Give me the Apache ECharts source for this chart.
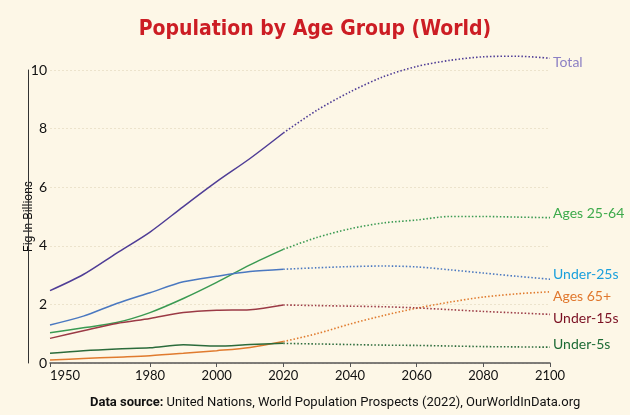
<!DOCTYPE html>
<html>
<head>
<meta charset="utf-8">
<script src="https://cdn.jsdelivr.net/npm/echarts@6/dist/echarts.min.js"></script>
<style>
  html, body { margin: 0; padding: 0; background: #fdf7e7; }
  #main { width: 630px; height: 415px; }
</style>
</head>
<body>
<div id="main"></div>
<script>
// years: estimates up to 2020, projections after
var histYears = [1950, 1960, 1970, 1980, 1990, 2000, 2010, 2020];
var projYears = [2020, 2030, 2040, 2050, 2060, 2070, 2080, 2090, 2100];
var xTicks = [1950, 1980, 2000, 2020, 2040, 2060, 2080, 2100];

// billions
var totalHist = [2.47, 3.02, 3.75, 4.47, 5.34, 6.19, 6.98, 7.85];
var totalProj = [7.85, 8.62, 9.25, 9.77, 10.12, 10.33, 10.45, 10.47, 10.4];
var age2564Hist = [1.03, 1.2, 1.38, 1.72, 2.2, 2.75, 3.35, 3.88];
var age2564Proj = [3.88, 4.28, 4.58, 4.78, 4.88, 5.0, 5.0, 4.98, 4.96];
var under25Hist = [1.3, 1.6, 2.03, 2.4, 2.77, 2.96, 3.12, 3.2];
var under25Proj = [3.2, 3.25, 3.29, 3.31, 3.28, 3.18, 3.07, 2.96, 2.86];
var age65Hist = [0.1, 0.15, 0.2, 0.25, 0.33, 0.42, 0.53, 0.73];
var age65Proj = [0.73, 1.0, 1.33, 1.62, 1.87, 2.08, 2.25, 2.36, 2.43];
var under15Hist = [0.84, 1.1, 1.35, 1.52, 1.72, 1.8, 1.82, 1.98];
var under15Proj = [1.98, 1.96, 1.94, 1.92, 1.88, 1.82, 1.76, 1.71, 1.66];
var under5Hist = [0.33, 0.42, 0.48, 0.52, 0.62, 0.58, 0.63, 0.67];
var under5Proj = [0.67, 0.65, 0.63, 0.61, 0.6, 0.58, 0.56, 0.55, 0.54];

var groups = [
  { name: "Total", hist: totalHist, proj: totalProj, line: "#4f3d96", label: "#8c80c4", dy: 4 },
  { name: "Ages 25-64", hist: age2564Hist, proj: age2564Proj, line: "#3a9a52", label: "#3daa4b", dy: -4 },
  { name: "Under-25s", hist: under25Hist, proj: under25Proj, line: "#4a78c0", label: "#1aa0dc", dy: -5 },
  { name: "Ages 65+", hist: age65Hist, proj: age65Proj, line: "#e07b2e", label: "#e0782e", dy: 5 },
  { name: "Under-15s", hist: under15Hist, proj: under15Proj, line: "#9b3a45", label: "#7a0f22", dy: 4 },
  { name: "Under-5s", hist: under5Hist, proj: under5Proj, line: "#2b6b3b", label: "#1d6b35", dy: -3 }
];

function pairs(xs, ys) {
  return xs.map(function (x, i) { return [x, ys[i]]; });
}

var series = [];
groups.forEach(function (g) {
  series.push({
    name: g.name,
    type: "line",
    data: pairs(histYears, g.hist),
    smooth: 0.3,
    clip: false,
    showSymbol: false,
    lineStyle: { color: g.line, width: 1.5 }
  });
  series.push({
    name: g.name,
    type: "line",
    data: pairs(projYears, g.proj),
    smooth: 0.3,
    clip: false,
    showSymbol: false,
    lineStyle: { color: g.line, width: 1.6, type: [1.5, 2] },
    endLabel: {
      show: true,
      formatter: g.name,
      color: g.label,
      fontFamily: "Lato",
      fontSize: 14,
      distance: 3,
      offset: [0, g.dy]
    }
  });
});

var chart = echarts.init(document.getElementById("main"));
var option = {
  backgroundColor: "#fdf7e7",
  animation: false,
  title: [
    {
      text: "Population by Age Group (World)",
      left: "center",
      top: 14,
      textStyle: {
        color: "#cc1d24",
        fontSize: 21,
        fontWeight: "bold",
        fontFamily: "'DejaVu Sans Condensed', sans-serif"
      }
    },
    {
      text: "{b|Data source:} United Nations, World Population Prospects (2022), OurWorldInData.org",
      left: 85,
      top: 391,
      textStyle: {
        color: "#111",
        fontSize: 13,
        fontWeight: "normal",
        fontFamily: "Roboto, sans-serif",
        rich: {
          b: { fontWeight: "bold", fontSize: 13, color: "#111", fontFamily: "Roboto, sans-serif" }
        }
      }
    }
  ],
  grid: { left: 50, right: 80, top: 70, bottom: 52 },
  xAxis: {
    type: "value",
    min: 1950,
    max: 2100,
    axisLine: { lineStyle: { color: "#555", width: 1.5 } },
    axisTick: { show: true, length: 4, customValues: xTicks, lineStyle: { color: "#555" } },
    axisLabel: {
      customValues: xTicks,
      formatter: function (v) { return String(v); },
      alignMinLabel: "left",
      margin: 6,
      color: "#111",
      fontSize: 13,
      fontFamily: "Lato"
    },
    splitLine: { show: false }
  },
  yAxis: [
    {
      type: "value",
      min: 0,
      max: 10,
      interval: 2,
      axisLine: { show: false },
      axisTick: { show: false },
      axisLabel: { margin: 3, color: "#111", fontSize: 14, fontFamily: "Lato" },
      splitLine: { lineStyle: { color: "#ece3cc", type: [2, 2] } }
    },
    {
      // the thin line on the far left, broken by the axis name
      type: "value",
      min: 0,
      max: 10,
      position: "left",
      offset: 22,
      axisLine: { show: true, lineStyle: { color: "#333", width: 1 } },
      axisTick: { show: false },
      axisLabel: { show: false },
      splitLine: { show: false },
      name: "Fig In Billions",
      nameLocation: "middle",
      nameRotate: 90,
      nameGap: -7,
      nameTextStyle: {
        color: "#111",
        fontSize: 12,
        fontFamily: "Roboto, sans-serif",
        backgroundColor: "#fdf7e7",
        padding: [0, 5]
      }
    }
  ],
  series: series
};
chart.setOption(option);
</script>
</body>
</html>
